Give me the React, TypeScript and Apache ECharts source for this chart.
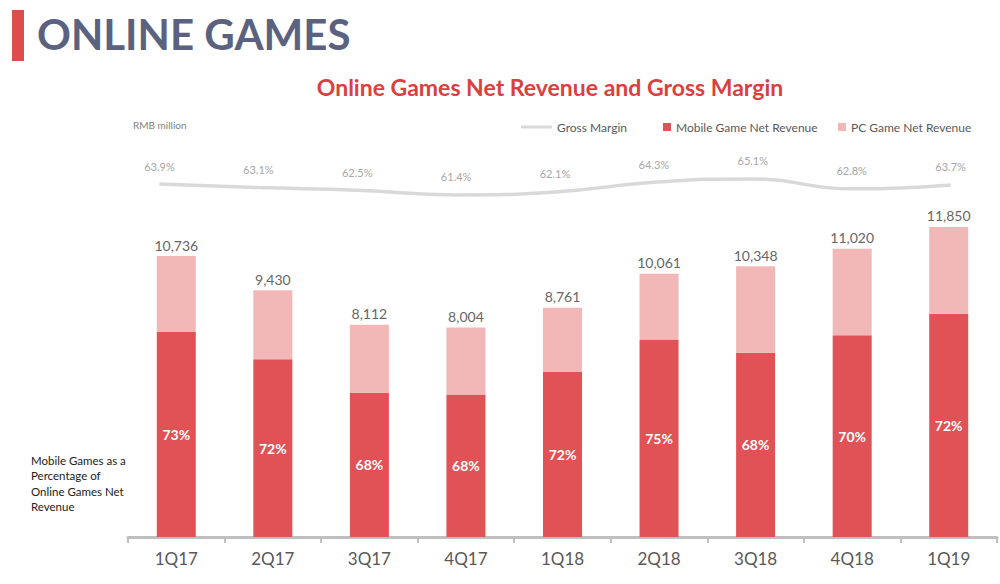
import React, { useEffect, useRef } from "react";
import * as echarts from "echarts";

const categories = ["1Q17", "2Q17", "3Q17", "4Q17", "1Q18", "2Q18", "3Q18", "4Q18", "1Q19"];
const totalRevenue = [10736, 9430, 8112, 8004, 8761, 10061, 10348, 11020, 11850];
const mobileRevenue = [7837, 6790, 5516, 5443, 6308, 7546, 7037, 7714, 8532];
const pcRevenue = [2899, 2640, 2596, 2561, 2453, 2515, 3311, 3306, 3318];
const mobileShare = ["73%", "72%", "68%", "68%", "72%", "75%", "68%", "70%", "72%"];
const grossMargin = [63.9, 63.1, 62.5, 61.4, 62.1, 64.3, 65.1, 62.8, 63.7];

const FONT = "Lato, 'Open Sans', sans-serif";

export default function App() {
  const ref = useRef<HTMLDivElement>(null);
  useEffect(() => {
    if (!ref.current) return;
    const chart = echarts.init(ref.current, undefined, { renderer: "svg" });
    const legendText = { color: "#595959", fontSize: 12, fontFamily: FONT };
    chart.setOption({
      animation: false,
      backgroundColor: "#ffffff",
      textStyle: { fontFamily: FONT },
      title: [
        {
          text: "ONLINE GAMES",
          left: 32,
          top: 8,
          textStyle: { color: "#5b6280", fontSize: 42, fontWeight: "bold", fontFamily: FONT },
        },
        {
          text: "Online Games Net Revenue and Gross Margin",
          left: 545,
          textAlign: "center",
          top: 70,
          textStyle: { color: "#d9403f", fontSize: 23, fontWeight: "bold", fontFamily: FONT },
        },
      ],
      legend: [
        {
          data: [{ name: "Gross Margin", icon: "rect", itemStyle: { color: "#d9d9d9" } }],
          left: 516,
          top: 116,
          itemWidth: 31,
          itemHeight: 3,
          textStyle: legendText,
        },
        {
          data: ["Mobile Game Net Revenue"],
          left: 658,
          top: 116,
          icon: "rect",
          itemWidth: 8,
          itemHeight: 8,
          textStyle: legendText,
        },
        {
          data: ["PC Game Net Revenue"],
          left: 833,
          top: 116,
          icon: "rect",
          itemWidth: 8,
          itemHeight: 8,
          textStyle: legendText,
        },
      ],
      graphic: [
        { type: "rect", left: 12, top: 10, shape: { width: 12, height: 51 }, style: { fill: "#e04b4b" } },
        {
          type: "text",
          left: 133,
          top: 120,
          style: { text: "RMB million", fill: "#808080", fontSize: 10, fontFamily: FONT },
        },
        {
          type: "text",
          left: 31,
          top: 453,
          style: {
            text: "Mobile Games as a\nPercentage of\nOnline Games Net\nRevenue",
            fill: "#222222",
            fontSize: 11.5,
            lineHeight: 15.3,
            fontFamily: FONT,
          },
        },
      ],
      grid: [
        { left: 128, right: 3, top: 223, bottom: 47 },
        { left: 110, width: 895, top: 175, height: 26 },
      ],
      xAxis: [
        {
          type: "category",
          gridIndex: 0,
          data: categories,
          axisLine: { lineStyle: { color: "#bfbfbf", width: 3 } },
          axisTick: { show: true, length: 6, lineStyle: { color: "#bfbfbf", width: 2 } },
          axisLabel: { color: "#595959", fontSize: 17, margin: 13, fontFamily: FONT },
        },
        { type: "category", gridIndex: 1, data: categories, show: false },
      ],
      yAxis: [
        { type: "value", gridIndex: 0, min: 0, max: 12000, show: false, splitLine: { show: false } },
        { type: "value", gridIndex: 1, min: 60, max: 66, show: false, splitLine: { show: false } },
      ],
      series: [
        {
          name: "Mobile Game Net Revenue",
          type: "bar",
          stack: "rev",
          xAxisIndex: 0,
          yAxisIndex: 0,
          barWidth: 39,
          data: mobileRevenue,
          itemStyle: { color: "#e05256" },
          label: {
            show: true,
            position: "inside",
            color: "#ffffff",
            fontWeight: "bold",
            fontSize: 14,
            fontFamily: FONT,
            formatter: (p: any) => mobileShare[p.dataIndex],
          },
        },
        {
          name: "PC Game Net Revenue",
          type: "bar",
          stack: "rev",
          xAxisIndex: 0,
          yAxisIndex: 0,
          barWidth: 39,
          data: pcRevenue,
          itemStyle: { color: "#f2b8b7" },
          label: {
            show: true,
            position: "top",
            distance: 4,
            color: "#666666",
            fontSize: 14,
            fontFamily: FONT,
            formatter: (p: any) => totalRevenue[p.dataIndex].toLocaleString("en-US"),
          },
        },
        {
          name: "Gross Margin",
          type: "line",
          xAxisIndex: 1,
          yAxisIndex: 1,
          smooth: 0.5,
          symbol: "circle",
          symbolSize: 1,
          showSymbol: true,
          data: grossMargin,
          lineStyle: { color: "#d9d9d9", width: 3.5 },
          itemStyle: { color: "#d9d9d9" },
          label: {
            show: true,
            position: "top",
            distance: 12,
            color: "#a6a6a6",
            fontSize: 11,
            fontFamily: FONT,
            formatter: (p: any) => p.value.toFixed(1) + "%",
          },
        },
      ],
    });
    return () => chart.dispose();
  }, []);
  return <div ref={ref} style={{ width: 1000, height: 584, position: "fixed", left: 0, top: 0 }} />;
}
